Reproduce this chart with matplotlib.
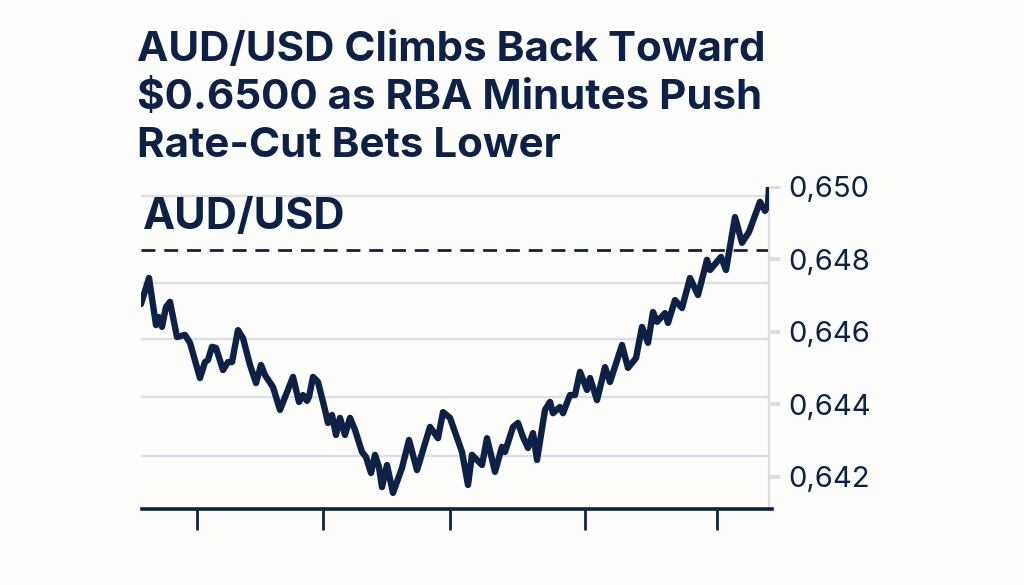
import matplotlib
matplotlib.use("Agg")
import matplotlib.pyplot as plt
from matplotlib.ticker import FixedLocator

# ---- data ----
t = [0, 8, 15, 18, 21, 25, 29, 36, 44, 49, 59, 64, 67, 71, 75, 82, 87, 91, 97, 102,
     109, 115, 120, 124, 132, 139, 146, 152, 158, 162, 166, 168, 172, 177, 184, 187,
     191, 195, 199, 204, 209, 214, 221, 225, 230, 234, 238, 241, 246, 252, 261, 268,
     276, 289, 297, 302, 309, 314, 321, 327, 331, 341, 346, 354, 361, 364, 372, 377,
     382, 387, 392, 396, 404, 409, 412, 419, 422, 429, 434, 439, 446, 449, 456, 464,
     469, 481, 487, 495, 501, 507, 512, 516, 524, 527, 534, 541, 549, 557, 566, 569,
     580, 585, 594, 601, 608, 619, 624, 627, 628]
price = [0.64677, 0.64749, 0.64619, 0.64641, 0.64614, 0.64669, 0.64683, 0.64586, 0.64592,
         0.64570, 0.64473, 0.64517, 0.64523, 0.64559, 0.64556, 0.64495, 0.64517, 0.64517,
         0.64605, 0.64583, 0.64509, 0.64459, 0.64509, 0.64481, 0.64448, 0.64385, 0.64434,
         0.64476, 0.64407, 0.64426, 0.64410, 0.64421, 0.64476, 0.64462, 0.64385, 0.64349,
         0.64371, 0.64316, 0.64363, 0.64316, 0.64363, 0.64330, 0.64269, 0.64255, 0.64211,
         0.64261, 0.64227, 0.64172, 0.64233, 0.64156, 0.64225, 0.64302, 0.64219, 0.64338,
         0.64307, 0.64379, 0.64363, 0.64324, 0.64269, 0.64178, 0.64261, 0.64233, 0.64307,
         0.64214, 0.64283, 0.64269, 0.64338, 0.64349, 0.64310, 0.64280, 0.64321, 0.64247,
         0.64385, 0.64407, 0.64376, 0.64393, 0.64376, 0.64426, 0.64426, 0.64490, 0.64440,
         0.64473, 0.64412, 0.64503, 0.64462, 0.64564, 0.64501, 0.64528, 0.64614, 0.64570,
         0.64655, 0.64628, 0.64652, 0.64625, 0.64688, 0.64666, 0.64749, 0.64702, 0.64799,
         0.64771, 0.64807, 0.64771, 0.64917, 0.64846, 0.64876, 0.64959, 0.64934, 0.64950,
         0.65000]
assert len(t) == len(price)

ytick_values = [0.642, 0.644, 0.646, 0.648, 0.650]
ytick_labels = ["0,642", "0,644", "0,646", "0,648", "0,650"]
grid_levels = [0.64258, 0.64421, 0.64581, 0.64735, 0.64975]
xtick_positions = [56, 182, 309, 444, 576]
reference_level = 0.64826

title = "AUD/USD Climbs Back Toward\n$0.6500 as RBA Minutes Push\nRate-Cut Bets Lower"
series_label = "AUD/USD"

# ---- styling ----
NAVY = "#0d2146"
GRID = "#dcdee5"
BG = "#fdfdfb"
plt.rcParams['font.family'] = ['Inter', 'DejaVu Sans']

fig = plt.figure(figsize=(10.24, 5.85), dpi=100, facecolor=BG)
ax = fig.add_axes([141/1024, 1 - 509/585, 628/1024, 322/585])
ax.set_facecolor(BG)

for g in grid_levels:
    ax.axhline(g, color=GRID, lw=1.6, zorder=1)

ax.axhline(reference_level, color=NAVY, lw=2.0, ls=(0, (5, 3.2)), zorder=2)

ax.plot(t, price, color=NAVY, lw=4.6, solid_joinstyle='round', solid_capstyle='round', zorder=3)

ax.set_xlim(0, 628)
ax.set_ylim(0.641116, 0.650)

ax.spines['top'].set_visible(False)
ax.spines['left'].set_visible(False)
ax.spines['right'].set_color(GRID)
ax.spines['right'].set_linewidth(1.6)
ax.spines['bottom'].set_color(NAVY)
ax.spines['bottom'].set_linewidth(2.6)
ax.spines['bottom'].set_bounds(1, 631)

ax.yaxis.tick_right()
ax.yaxis.set_major_locator(FixedLocator(ytick_values))
ax.set_yticklabels(ytick_labels)
ax.tick_params(axis='y', which='major', length=8, width=3, color=GRID,
               labelsize=21, labelcolor=NAVY, pad=6)
ytl = ax.yaxis.get_major_ticks()
ytl[-1].tick2line.set_color(NAVY)
ytl[-1].tick2line.set_markeredgewidth(2)

ax.xaxis.set_major_locator(FixedLocator(xtick_positions))
ax.set_xticklabels([""] * len(xtick_positions))
ax.tick_params(axis='x', which='major', length=15, width=2, color=NAVY, direction='out')

fig.text(143/1024, 1 - 229/585, series_label, fontsize=31, fontweight='bold', color=NAVY,
         va='baseline', ha='left')

fig.text(137/1024, 1 - 157/585, title, fontsize=30.3, fontweight='bold', color=NAVY,
         ha='left', va='baseline', linespacing=1.33)

fig.savefig("out.png", dpi=100, facecolor=BG)
